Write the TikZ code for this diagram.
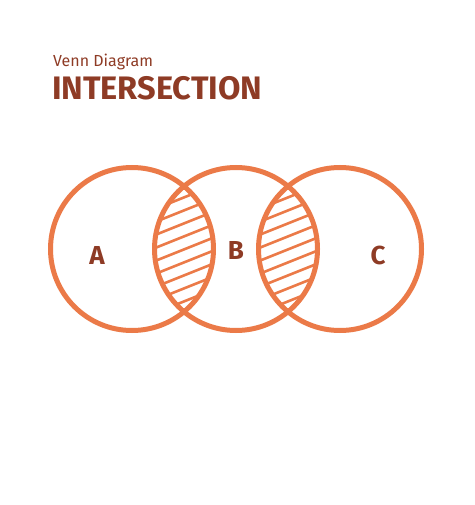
\documentclass[tikz,border=0pt]{standalone}
\usepackage{fontspec}
\setmainfont{Fira Sans}
\definecolor{vennorange}{HTML}{EB7A48}
\definecolor{vennbrown}{HTML}{8E3B25}

\begin{document}
\begin{tikzpicture}[x=1pt,y=-1pt]
		\tikzset{venn/.style={draw=vennorange, line width=5pt, circle, minimum size=163pt, inner sep=0pt}}
		\tikzset{setlabel/.style={text=vennbrown, font=\fontsize{26}{26}\selectfont\bfseries}}
		\tikzset{hatch/.style={draw=vennorange, line width=2.6pt}}
		\useasboundingbox (0,0) rectangle (474,505);
		% title
		\node[anchor=base west, inner sep=0pt, text=vennbrown, font=\fontsize{16}{16}\selectfont\mdseries] (sub) at (53,67) {Venn Diagram};
		\node[anchor=base west, inner sep=0pt, text=vennbrown, font=\fontsize{32.5}{32.5}\selectfont\bfseries] (title) at (52,100) {INTERSECTION};
		% hatching of A and B, then of B and C
		\begin{scope}
			\clip (132,249) circle (82);
			\clip (236,249) circle (82);
			\foreach \k in {-104,-91,...,104}
				\draw[hatch] (125,249+\k+24) -- (245,249+\k-24);
		\end{scope}
		\begin{scope}
			\clip (236,249) circle (82);
			\clip (340,249) circle (82);
			\foreach \k in {-104,-91,...,104}
				\draw[hatch] (229,249+\k+24) -- (349,249+\k-24);
		\end{scope}
		% the three sets
		\node[venn] (A) at (132,249) {};
		\node[venn] (B) at (236,249) {};
		\node[venn] (C) at (340,249) {};
		\node[setlabel] (la) at (97,255) {A};
		\node[setlabel] (lb) at (236,250) {B};
		\node[setlabel] (lc) at (378,255) {C};
\end{tikzpicture}
\end{document}
